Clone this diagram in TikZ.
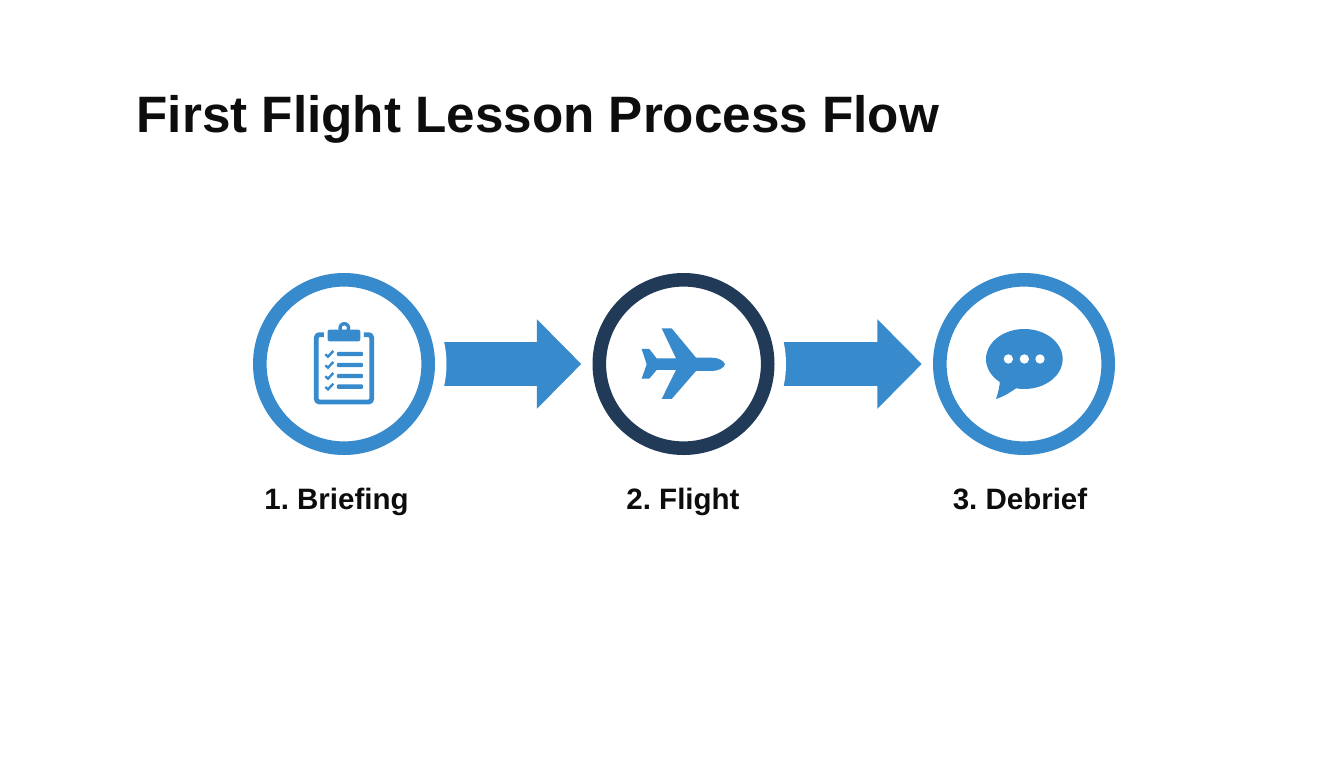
\documentclass[tikz,border=0pt]{standalone}
\usepackage{fontspec}
\setmainfont{Liberation Sans}
\usetikzlibrary{arrows.meta}
\definecolor{flowblue}{HTML}{378BCD}
\definecolor{flowdark}{HTML}{203A58}
\definecolor{flowtext}{HTML}{0D0D0D}
\pgfdeclarelayer{arrowlayer}
\pgfdeclarelayer{halolayer}
\pgfsetlayers{arrowlayer,halolayer,main}
\tikzset{
  stepring/.style={circle,draw=#1,line width=13.6pt,minimum size=168.4pt,inner sep=0pt,outer sep=0pt,fill=white},
  steplabel/.style={font=\bfseries\fontsize{29.5}{33}\selectfont,text=flowtext,inner sep=0pt,anchor=base},
  flowarrow/.style={draw=flowblue,line width=44.4pt,-{Triangle[length=44.5pt,width=87pt]},shorten >=18pt},
  icon/.style={x=0.3333pt,y=-0.3333pt},
}
\frenchspacing
\begin{document}
\begin{tikzpicture}[x=1pt,y=-1pt]
\useasboundingbox (0,0) rectangle (1344,768);
\node[anchor=base west,inner sep=0pt,font=\bfseries\fontsize{51.2}{56}\selectfont,text=flowtext] (title) at (136.5,132.5) {First Flight Lesson Process Flow};
\node[stepring=flowblue] (c1) at (344,364) {};
\node[stepring=flowdark] (c2) at (683.5,364) {};
\node[stepring=flowblue] (c3) at (1024,364) {};
\begin{pgfonlayer}{arrowlayer}
\draw[flowarrow] (c1.center) -- (c2);
\draw[flowarrow] (c2.center) -- (c3);
\end{pgfonlayer}
\begin{pgfonlayer}{halolayer}
\fill[white] (c1.center) circle[radius=102.5];
\fill[white] (c2.center) circle[radius=102.5];
\end{pgfonlayer}
\node[steplabel] (l1) at (336.5,509) {1. Briefing};
\node[steplabel] (l2) at (683,509) {2. Flight};
\node[steplabel] (l3) at (1020,509) {3. Debrief};
% clipboard
\begin{scope}[shift={(250,270)},icon]
\draw[flowblue,line width=4.8pt,line join=round,rounded corners=3pt] (222,194) -- (199,194) -- (199,396) -- (365,396) -- (365,194) -- (342,194);
\fill[flowblue,rounded corners=2pt] (233,179) rectangle (331,214);
\fill[flowblue,even odd rule] (283,174) circle[radius=18] (283,174) circle[radius=8];
\foreach \yy in {252,285,318,350}{
  \fill[flowblue,rounded corners=1pt] (261,\yy-6.5) rectangle (339,\yy+6.5);
  \draw[flowblue,line width=2.4pt] (226,\yy+1) -- (234,\yy+8) -- (250,\yy-9);
}
\end{scope}
% plane
\begin{scope}[shift={(590,270)},icon]
\fill[flowblue,line join=round] (405,283) .. controls (402,272) and (385,263) .. (365,263) -- (318,263) -- (245,175) -- (215,175) -- (258,265) -- (200,265) -- (178,237) -- (155,237) -- (170,283) -- (155,326) -- (178,326) -- (200,300) -- (258,300) -- (215,387) -- (245,387) -- (318,303) -- (365,303) .. controls (385,303) and (402,294) .. (405,283) -- cycle;
\end{scope}
% speech bubble
\begin{scope}[shift={(930,270)},icon]
\fill[flowblue] (283,267) ellipse[x radius=115,y radius=90];
\fill[flowblue] (210,330) .. controls (209,350) and (204,370) .. (198,387) .. controls (220,380) and (240,368) .. (262,352) -- cycle;
\foreach \xx in {235,283,330}{\fill[white] (\xx,267) circle[radius=14];}
\end{scope}
\end{tikzpicture}
\end{document}
